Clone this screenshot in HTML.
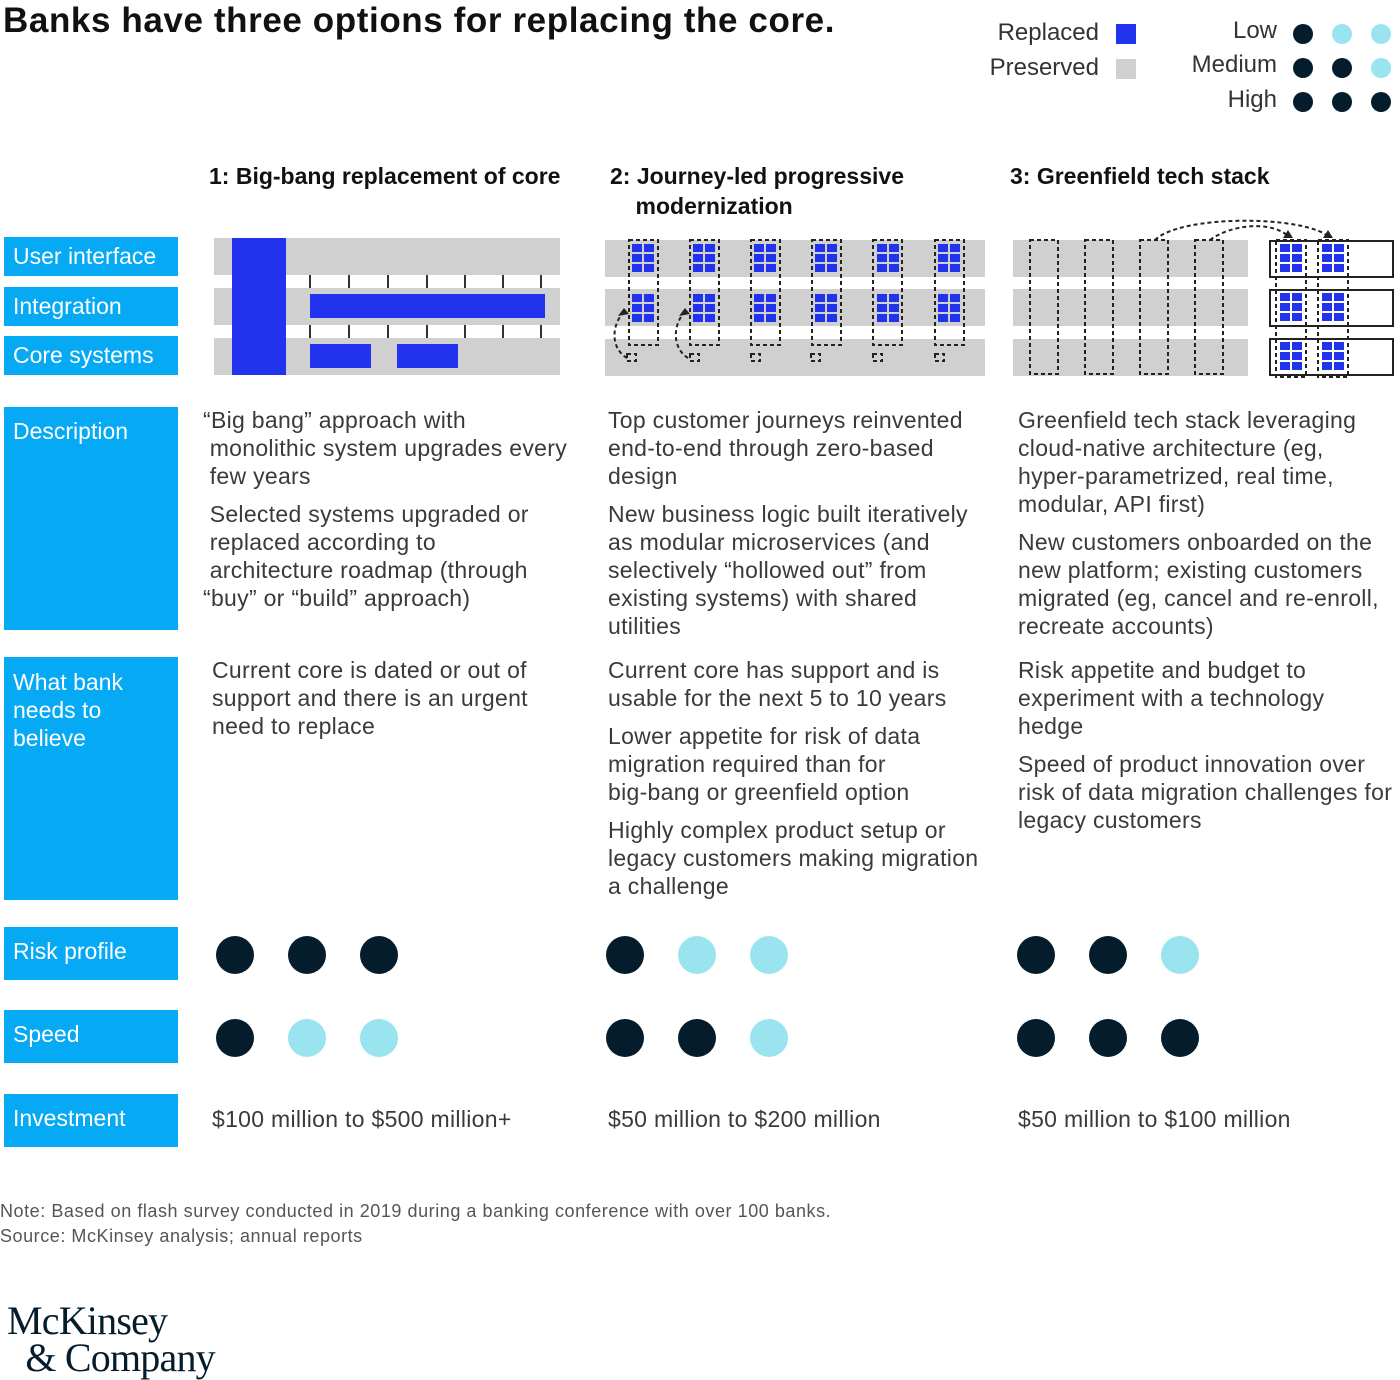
<!DOCTYPE html>
<html><head><meta charset="utf-8"><style>
body{margin:0;width:1400px;height:1378px;background:#fff;position:relative;overflow:hidden;font-family:"Liberation Sans",sans-serif;color:#333}
.a{position:absolute}
.t{position:absolute;font-size:23px;line-height:28px;color:#3a3a3a;letter-spacing:0.3px;white-space:nowrap}
.t p{margin:0 0 10px 0}
.lab{position:absolute;left:4px;width:174px;background:#05a9f4;color:#fff;font-size:23px;line-height:28px;box-sizing:border-box;padding-left:9px}
.h{position:absolute;font-weight:bold;font-size:23px;line-height:30px;color:#111}
.d{position:absolute;width:38px;height:38px;border-radius:50%}
.k{background:#051c2c}.c{background:#9ae4f0}
.ld{position:absolute;width:20px;height:20px;border-radius:50%}
</style></head><body>
<div class="a" style="left:3px;top:0;font-size:35px;font-weight:bold;color:#111;line-height:42px;letter-spacing:0.6px">Banks have three options for replacing the core.</div>

<div class="a" style="right:301px;top:19px;font-size:24px;color:#333">Replaced</div>
<div class="a" style="left:1116px;top:24px;width:20px;height:20px;background:#2233ee"></div>
<div class="a" style="right:301px;top:54px;font-size:24px;color:#333">Preserved</div>
<div class="a" style="left:1116px;top:59px;width:20px;height:20px;background:#d0d0d0"></div>
<div class="a" style="right:123px;top:17px;font-size:24px;color:#333">Low</div>
<div class="a" style="right:123px;top:51px;font-size:24px;color:#333">Medium</div>
<div class="a" style="right:123px;top:86px;font-size:24px;color:#333">High</div>
<div class="ld k" style="left:1293px;top:24px"></div><div class="ld c" style="left:1332px;top:24px"></div><div class="ld c" style="left:1371px;top:24px"></div>
<div class="ld k" style="left:1293px;top:58px"></div><div class="ld k" style="left:1332px;top:58px"></div><div class="ld c" style="left:1371px;top:58px"></div>
<div class="ld k" style="left:1293px;top:92px"></div><div class="ld k" style="left:1332px;top:92px"></div><div class="ld k" style="left:1371px;top:92px"></div>

<div class="h" style="left:209px;top:161px">1: Big-bang replacement of core</div>
<div class="h" style="left:610px;top:161px">2: Journey-led progressive<br>&nbsp;&nbsp;&nbsp;&nbsp;modernization</div>
<div class="h" style="left:1010px;top:161px">3: Greenfield tech stack</div>

<div class="lab" style="top:237px;height:39px;padding-top:5px">User interface</div>
<div class="lab" style="top:287px;height:39px;padding-top:5px">Integration</div>
<div class="lab" style="top:336px;height:39px;padding-top:5px">Core systems</div>
<div class="lab" style="top:407px;height:223px;padding-top:10px">Description</div>
<div class="lab" style="top:657px;height:243px;padding-top:11px">What bank<br>needs to<br>believe</div>
<div class="lab" style="top:927px;height:53px;padding-top:10px">Risk profile</div>
<div class="lab" style="top:1010px;height:53px;padding-top:10px">Speed</div>
<div class="lab" style="top:1094px;height:53px;padding-top:10px">Investment</div>

<svg class="a" style="left:0;top:0" width="1400" height="400">
<g fill="#d0d0d0">
<rect x="214" y="238" width="346" height="37"/><rect x="214" y="288" width="346" height="37"/><rect x="214" y="338" width="346" height="37"/>
<rect x="605" y="240" width="380" height="37"/><rect x="605" y="289" width="380" height="37"/><rect x="605" y="339" width="380" height="37"/>
<rect x="1013" y="240" width="235" height="37"/><rect x="1013" y="289" width="235" height="37"/><rect x="1013" y="339" width="235" height="37"/>
</g>
<g fill="#2233ee">
<rect x="232" y="238" width="54" height="137"/><rect x="310" y="294" width="235" height="24"/>
<rect x="310" y="344" width="61" height="24"/><rect x="397" y="344" width="61" height="24"/>
</g>
<g stroke="#333" stroke-width="2">
<path d="M310 275v13M349 275v13M388 275v13M427 275v13M465 275v13M503 275v13M541 275v13M310 325v13M349 325v13M388 325v13M427 325v13M465 325v13M503 325v13M541 325v13"/>
</g>
<g fill="none" stroke="#222" stroke-width="2" stroke-dasharray="4,3">
<rect x="629" y="240" width="29" height="105"/><rect x="690" y="240" width="29" height="105"/><rect x="751" y="240" width="29" height="105"/>
<rect x="812" y="240" width="29" height="105"/><rect x="873" y="240" width="29" height="105"/><rect x="935" y="240" width="29" height="105"/>
<rect x="627" y="354" width="9" height="7"/><rect x="690" y="354" width="9" height="7"/><rect x="751" y="354" width="9" height="7"/>
<rect x="811" y="354" width="9" height="7"/><rect x="873" y="354" width="9" height="7"/><rect x="935" y="354" width="9" height="7"/>
<path d="M627 358 C610 348 612 325 623 313"/><path d="M688 358 C672 348 673 325 684 313"/>
<rect x="1030" y="240" width="28" height="134"/><rect x="1085" y="240" width="28" height="134"/><rect x="1140" y="240" width="28" height="134"/><rect x="1195" y="240" width="28" height="134"/>
<path d="M1155 240 C1180 215 1300 215 1328 236"/><path d="M1210 240 C1230 225 1270 220 1288 236"/>
<rect x="1276" y="240" width="30" height="137"/><rect x="1318" y="240" width="30" height="137"/>
</g>
<g fill="#222"><path d="M618 316l6-8 5 6z"/><path d="M679 316l6-8 5 6z"/><path d="M1283 238l5-8 5 8z"/><path d="M1323 238l5-8 5 8z"/></g>
<g fill="none" stroke="#222" stroke-width="2"><rect x="1270" y="241" width="123" height="36"/><rect x="1270" y="290" width="123" height="36"/><rect x="1270" y="339" width="123" height="36"/></g>
<defs><g id="g6" fill="#2233ee"><rect x="0" y="0" width="10" height="8"/><rect x="12" y="0" width="10" height="8"/><rect x="0" y="10" width="10" height="8"/><rect x="12" y="10" width="10" height="8"/><rect x="0" y="20" width="10" height="8"/><rect x="12" y="20" width="10" height="8"/></g></defs>
<use href="#g6" x="632" y="244"/><use href="#g6" x="693" y="244"/><use href="#g6" x="754" y="244"/><use href="#g6" x="815" y="244"/><use href="#g6" x="877" y="244"/><use href="#g6" x="938" y="244"/>
<use href="#g6" x="632" y="294"/><use href="#g6" x="693" y="294"/><use href="#g6" x="754" y="294"/><use href="#g6" x="815" y="294"/><use href="#g6" x="877" y="294"/><use href="#g6" x="938" y="294"/>
<use href="#g6" x="1280" y="244"/><use href="#g6" x="1322" y="244"/><use href="#g6" x="1280" y="293"/><use href="#g6" x="1322" y="293"/><use href="#g6" x="1280" y="342"/><use href="#g6" x="1322" y="342"/>
</svg>

<div class="t" style="left:203px;top:406px;width:380px"><p>“Big bang” approach with<br>&nbsp;monolithic system upgrades every<br>&nbsp;few years</p><p>&nbsp;Selected systems upgraded or<br>&nbsp;replaced according to<br>&nbsp;architecture roadmap (through<br>“buy” or “build” approach)</p></div>
<div class="t" style="left:608px;top:406px;width:390px"><p>Top customer journeys reinvented<br>end-to-end through zero-based<br>design</p><p>New business logic built iteratively<br>as modular microservices (and<br>selectively “hollowed out” from<br>existing systems) with shared<br>utilities</p></div>
<div class="t" style="left:1018px;top:406px;width:385px"><p>Greenfield tech stack leveraging<br>cloud-native architecture (eg,<br>hyper-parametrized, real time,<br>modular, API first)</p><p>New customers onboarded on the<br>new platform; existing customers<br>migrated (eg, cancel and re-enroll,<br>recreate accounts)</p></div>

<div class="t" style="left:212px;top:656px;width:380px"><p>Current core is dated or out of<br>support and there is an urgent<br>need to replace</p></div>
<div class="t" style="left:608px;top:656px;width:390px"><p>Current core has support and is<br>usable for the next 5 to 10 years</p><p>Lower appetite for risk of data<br>migration required than for<br>big-bang or greenfield option</p><p>Highly complex product setup or<br>legacy customers making migration<br>a challenge</p></div>
<div class="t" style="left:1018px;top:656px;width:385px"><p>Risk appetite and budget to<br>experiment with a technology<br>hedge</p><p>Speed of product innovation over<br>risk of data migration challenges for<br>legacy customers</p></div>

<div class="d k" style="left:216px;top:936px"></div><div class="d k" style="left:288px;top:936px"></div><div class="d k" style="left:360px;top:936px"></div>
<div class="d k" style="left:606px;top:936px"></div><div class="d c" style="left:678px;top:936px"></div><div class="d c" style="left:750px;top:936px"></div>
<div class="d k" style="left:1017px;top:936px"></div><div class="d k" style="left:1089px;top:936px"></div><div class="d c" style="left:1161px;top:936px"></div>
<div class="d k" style="left:216px;top:1019px"></div><div class="d c" style="left:288px;top:1019px"></div><div class="d c" style="left:360px;top:1019px"></div>
<div class="d k" style="left:606px;top:1019px"></div><div class="d k" style="left:678px;top:1019px"></div><div class="d c" style="left:750px;top:1019px"></div>
<div class="d k" style="left:1017px;top:1019px"></div><div class="d k" style="left:1089px;top:1019px"></div><div class="d k" style="left:1161px;top:1019px"></div>

<div class="t" style="left:212px;top:1105px">$100 million to $500 million+</div>
<div class="t" style="left:608px;top:1105px">$50 million to $200 million</div>
<div class="t" style="left:1018px;top:1105px">$50 million to $100 million</div>

<div class="a" style="left:0;top:1199px;font-size:18px;line-height:25px;color:#555;letter-spacing:0.55px;white-space:nowrap">Note: Based on flash survey conducted in 2019 during a banking conference with over 100 banks.<br>Source: McKinsey analysis; annual reports</div>
<div class="a" style="left:7px;top:1302px;font-family:'Liberation Serif',serif;font-size:40px;line-height:37px;color:#051c2c;letter-spacing:-0.8px;white-space:nowrap">McKinsey<br>&nbsp;&nbsp;&amp; Company</div>
</body></html>
